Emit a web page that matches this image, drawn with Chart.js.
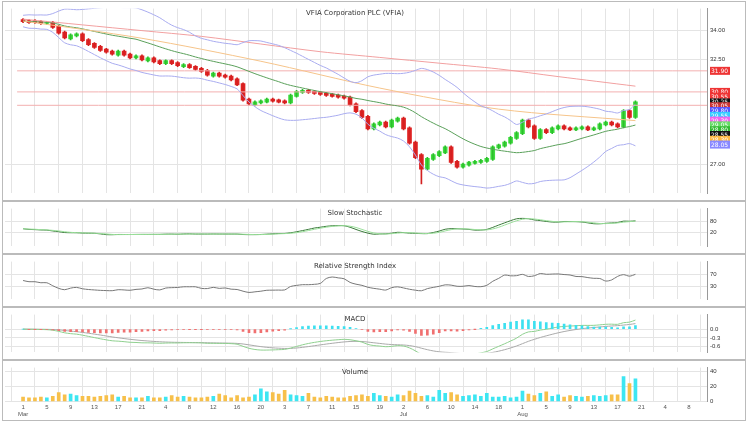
<!DOCTYPE html>
<html><head><meta charset="utf-8">
<script src="https://cdn.jsdelivr.net/npm/chart.js@4/dist/chart.umd.min.js"></script>
<style>
body{margin:0;background:#fff;font-family:"DejaVu Sans",sans-serif}
#wrap{position:relative;width:750px;height:422px;background:#fff;overflow:hidden}
.pane{position:absolute;left:2px;width:744px;border:1px solid #bbb;box-sizing:border-box}
.pane canvas{display:block}
</style></head><body>
<div id="wrap">
<div class="pane" style="top:1px;height:200px"><canvas id="main"></canvas></div>
<div class="pane" style="top:201px;height:53px"><canvas id="stoch"></canvas></div>
<div class="pane" style="top:254px;height:53px"><canvas id="rsi"></canvas></div>
<div class="pane" style="top:307px;height:53px"><canvas id="macd"></canvas></div>
<div class="pane" style="top:360px;height:61px"><canvas id="vol"></canvas></div>
</div>
<script>
const title = "VFIA Corporation PLC (VFIA)";

// closes
const closes = [
34.5,34.45,34.45,34.4,34.4, 34.2,33.9,33.65,33.75,33.8,
33.5,33.3,33.15,33.0,32.9, 32.8,32.9,32.75,32.6,32.65,
32.5,32.55,32.4,32.3,32.4, 32.3,32.2,32.2,32.1,32.0,
31.9,31.7,31.75,31.65,31.6, 31.45,31.2,30.4,30.2,30.25,
30.3,30.4,30.35,30.3,30.25, 30.6,30.8,30.85,30.8,30.75,
30.7,30.65,30.6,30.55,30.5, 30.15,29.8,29.5,28.9,29.1,
29.2,29.0,29.3,29.4,28.9, 28.15,27.4,26.8,27.3,27.5,
27.65,27.9,27.15,26.9,27.0, 27.1,27.15,27.2,27.3,27.9,
28.0,28.15,28.4,28.65,29.3, 29.0,28.4,28.8,28.7,28.9,
29.0,28.9,28.85,28.9,28.95, 28.85,28.9,29.1,29.2,29.1,
29.0,29.8,29.5,30.25];
const opens = [
34.55,34.5,34.5,34.45,34.4, 34.4,34.2,33.9,33.6,33.75,
33.8,33.5,33.3,33.15,33.0, 32.9,32.75,32.9,32.75,32.6,
32.65,32.45,32.55,32.4,32.3, 32.4,32.3,32.15,32.2,32.1,
32.0,31.9,31.65,31.75,31.65, 31.6,31.45,31.2,30.4,30.15,
30.25,30.3,30.4,30.35,30.3, 30.25,30.6,30.8,30.85,30.8,
30.75,30.7,30.65,30.6,30.55, 30.5,30.15,29.8,29.5,28.9,
29.1,29.2,29.0,29.3,29.4, 28.9,28.15,27.5,26.8,27.3,
27.5,27.65,27.9,27.15,26.9, 27.0,27.1,27.15,27.2,27.3,
27.9,28.0,28.15,28.4,28.65, 29.3,29.0,28.4,28.8,28.7,
28.9,29.0,28.9,28.85,28.9, 28.95,28.85,28.9,29.1,29.2,
29.1,29.0,29.8,29.5];
const lowWicks = {67:26.0};
const volumes = [
6,5,5,6,5, 7,12,9,10,8, 7,7,6,7,8, 9,6,7,5,5,
5,7,5,5,6, 8,6,7,6,5, 5,6,7,10,8, 5,8,5,6,9,
17,13,12,10,15, 9,8,7,11,6, 5,7,6,5,5, 7,8,9,7,11,
8,7,6,9,8, 14,11,7,8,6, 15,11,12,9,7, 8,9,7,11,6,
6,7,5,6,14, 10,8,11,13,7, 9,6,8,7,6, 7,8,7,8,9,
9,33,24,30];

// reference lines and right-axis flags
const pivotLines = [31.9, 30.8, 30.1];
const redMA = [[0,34.6],[10,34.3],[20,34.0],[30,33.7],[40,33.3],[50,32.9],[60,32.6],[70,32.3],[80,32.0],[90,31.6],[103,31.1]];
const orangeMA = [[0,34.5],[20,33.6],[40,32.4],[60,31.0],[80,29.9],[103,29.3]];
const flags = [[31.9,"#e33"],[30.8,"#e33"],[30.55,"#e33"],[30.25,"#111"],[30.05,"#c33"],[29.8,"#55f"],[29.55,"#3cf"],[29.3,"#e6e"],[29.05,"#6d6"],[28.8,"#3b3"],[28.55,"#111"],[28.3,"#fb4"],[28.05,"#88f"]];
const monthStarts = {0:"Mar",13:"Apr",27:"May",45:"Jun",64:"Jul",84:"Aug"};

const N = closes.length;
const idx = closes.map((_,i)=>i);

// ---------- indicators ----------
function sma(arr,n){return arr.map((_,i)=>{const s=arr.slice(Math.max(0,i-n+1),i+1);return s.reduce((a,b)=>a+b,0)/s.length;});}
function ema(arr,n){const k=2/(n+1);let out=[];arr.forEach((v,i)=>out.push(i?v*k+out[i-1]*(1-k):v));return out;}
const ma20 = sma(closes,20);
const bbUp = ma20.map((m,i)=>{const s=closes.slice(Math.max(0,i-19),i+1);const sd=Math.sqrt(s.reduce((a,b)=>a+(b-m)**2,0)/s.length);return m+2*sd+0.3;});
const bbLo = ma20.map((m,i)=>2*m-bbUp[i]);
const highs = closes.map((c,i)=>Math.max(c,opens[i])+0.08);
const lows = closes.map((c,i)=>lowWicks[i]!==undefined?lowWicks[i]:Math.min(c,opens[i])-0.08);
const rawK = closes.map((c,i)=>{const h=Math.max(...highs.slice(Math.max(0,i-13),i+1));const l=Math.min(...lows.slice(Math.max(0,i-13),i+1));return h===l?50:100*(c-l)/(h-l);});
const stK = sma(rawK,5), stD = sma(stK,3);
const rsi = closes.map((c,i)=>{let g=0.3,l=0.3;for(let j=Math.max(1,i-13);j<=i;j++){const d=closes[j]-closes[j-1];if(d>0)g+=d;else l-=d;}return 100*g/(g+l);});
const macdL = ema(closes,12).map((v,i)=>v-ema(closes,26)[i]);
const macdS = ema(macdL,9);
const macdH = macdL.map((v,i)=>v-macdS[i]);

const pts = arr=>arr.map((v,i)=>({x:i,y:v}));
const up = closes.map((c,i)=>c>=opens[i]);

// ---------- plugins ----------
const paneTitle = {id:"paneTitle",afterDraw(c,a,o){if(!o.text)return;const x=c.ctx;x.save();x.font="7px 'DejaVu Sans'";x.fillStyle="#333";x.textAlign="center";x.fillText(o.text,c.chartArea.left+350,c.chartArea.top+6);x.restore();}};
const flagBoxes = {id:"flagBoxes",afterDraw(c,a,o){if(!o.list)return;const x=c.ctx,y=c.scales.y;x.save();x.font="6px 'DejaVu Sans'";o.list.forEach(([v,col])=>{const py=y.getPixelForValue(v);x.fillStyle=col;x.fillRect(c.chartArea.right+3,py-4,20,8);x.fillStyle="#fff";x.fillText(v.toFixed(2),c.chartArea.right+4,py+2);});x.restore();}};

function xScale(showTicks){
return {type:"linear",min:-1,max:113,
grid:{color:"#e4e4e4",drawTicks:false},border:{display:false},
afterBuildTicks:s=>{s.ticks=[];for(let i=0;i<113;i+=4)s.ticks.push({value:i});},
ticks:{display:showTicks,font:{size:6},color:"#555",padding:2,maxRotation:0,autoSkip:false,
callback:v=>monthStarts[v]!==undefined?[String(v%21+1),monthStarts[v]]:String(v%21+1)}};
}
function yScale(min,max,ticks,fmt){
return {position:"right",min:min,max:max,
grid:{color:"#e4e4e4",drawTicks:false},border:{color:"#999"},
afterBuildTicks:s=>{s.ticks=ticks.map(v=>({value:v}));},
afterFit:s=>{s.width=36;},
ticks:{font:{size:6},color:"#333",padding:3,callback:fmt||(v=>v)}};
}
function make(id,h,datasets,y,opts){
const cv=document.getElementById(id);cv.width=742;cv.height=h;
return new Chart(cv,{type:"bar",data:{datasets:datasets},
options:{responsive:false,animation:false,events:[],
layout:{padding:{left:2,right:2,top:2,bottom:opts.bottom||0}},
plugins:{legend:{display:false},tooltip:{enabled:false},paneTitle:{text:opts.title},flagBoxes:{list:opts.flags}},
scales:{x:xScale(!!opts.xTicks),y:y}},plugins:[paneTitle,flagBoxes]});
}
const line=(data,col,w)=>({type:"line",data:data,borderColor:col,borderWidth:w||1,pointRadius:0,tension:0.3});

// ---------- main ----------
make("main",198,[
line(pts(bbUp),"#a9acf0"),line(pts(bbLo),"#a9acf0"),
line(redMA.map(([x,y])=>({x,y})),"#f2a0a0"),
line(orangeMA.map(([x,y])=>({x,y})),"#f6c48a"),
line(pts(ma20),"#5aa05a"),
...pivotLines.map(v=>line([{x:-1,y:v},{x:116,y:v}],"#f3b0b0")),
{data:idx.map(i=>({x:i,y:[lows[i],highs[i]]})),backgroundColor:up.map(u=>u?"#2bbf2b":"#d42020"),barThickness:1,grouped:false},
{data:idx.map(i=>({x:i,y:[Math.min(opens[i],closes[i])-0.03,Math.max(opens[i],closes[i])+0.03]})),backgroundColor:up.map(u=>u?"#3fdc3f":"#e02424"),barThickness:4,grouped:false}
],yScale(25.5,35.15,[34,32.5,27],v=>v.toFixed(2)),{title:title,flags:flags});

make("stoch",51,[line(pts(stD),"#9be09b"),line(pts(stK),"#3a7a3a")],yScale(-60,150,[80,20]),{title:"Slow Stochastic"});
make("rsi",51,[line(pts(rsi),"#777")],yScale(-10,110,[70,30]),{title:"Relative Strength Index"});
make("macd",51,[
{data:pts(macdH),backgroundColor:macdH.map(v=>v>=0?"#3de0f0":"#f07070"),barThickness:2,grouped:false},
line(pts(macdL),"#8fd08f"),line(pts(macdS),"#aaa")
],yScale(-0.8,0.5,[0,-0.3,-0.6],v=>v.toFixed(1)),{title:"MACD"});
make("vol",59,[
{data:pts(volumes),backgroundColor:up.map(u=>u?"#3de6f2":"#f7c04a"),barThickness:3,grouped:false}
],yScale(0,45,[0,20,40]),{title:"Volume",xTicks:true});
</script>
</body></html>
